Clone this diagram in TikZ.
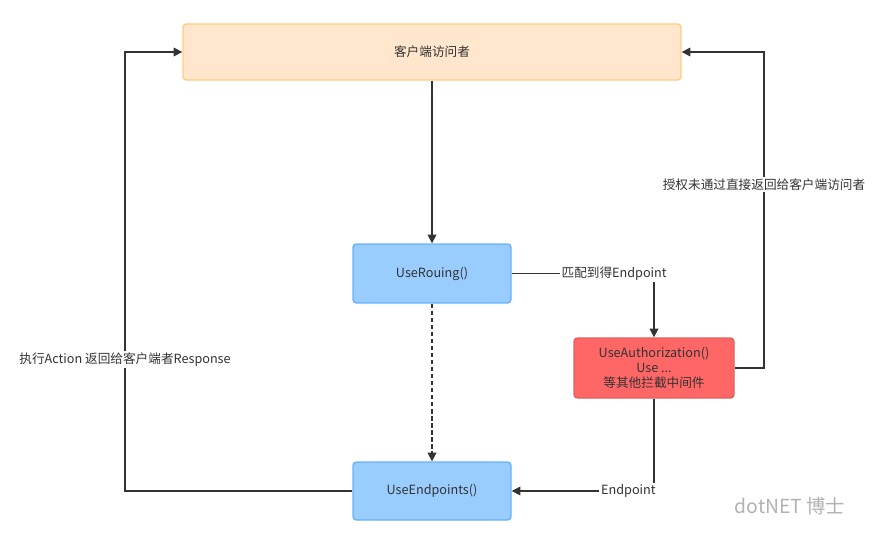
\documentclass[tikz,border=0pt]{standalone}
\usepackage{fontspec}
\setmainfont{Noto Sans CJK SC}
\usetikzlibrary{arrows.meta}
\definecolor{peach}{HTML}{FFE6CC}
\definecolor{peachb}{HTML}{FFCC80}
\definecolor{blue1}{HTML}{99CCFF}
\definecolor{blueb}{HTML}{66B2FF}
\definecolor{red1}{HTML}{FF6666}
\definecolor{redb}{HTML}{E06060}
\definecolor{ln}{HTML}{333333}
\begin{document}
\begin{tikzpicture}[x=0.02cm,y=-0.02cm,font=\fontsize{7.2}{8.5}\selectfont,
 box/.style={draw,line width=0.8pt,rounded corners=2pt,inner sep=0pt,align=center,text=ln},
 arr/.style={draw=ln,line width=0.9pt,-{Triangle[length=5pt,width=5pt]}},
 lab/.style={fill=white,inner sep=1pt,text=ln}]
\useasboundingbox (0,0) rectangle (882,545);
\node[box,fill=peach,draw=peachb,minimum width=498*0.02cm,minimum height=56*0.02cm] (client) at (432,52) {客户端访问者};
\node[box,fill=blue1,draw=blueb,minimum width=158*0.02cm,minimum height=59*0.02cm] (rout) at (432,273.5) {UseRouing()};
\node[box,fill=red1,draw=redb,minimum width=160*0.02cm,minimum height=60*0.02cm] (auth) at (654,368) {UseAuthorization()\\Use ...\\等其他拦截中间件};
\node[box,fill=blue1,draw=blueb,minimum width=158*0.02cm,minimum height=58*0.02cm] (endp) at (432,491) {UseEndpoints()};
\draw[arr] (client.south) -- (rout.north);
\draw[arr,dash pattern=on 2.5pt off 1.5pt] (rout.south) -- (endp.north);
\draw[arr] (rout.east) -| node[lab,pos=0.36]{匹配到得Endpoint} (auth.north);
\draw[arr] (auth.east) -- (764,368) -- node[lab,pos=0.58]{授权未通过直接返回给客户端访问者} (764,52) -- (client.east);
\draw[arr] (auth.south) |- node[lab,pos=0.59]{Endpoint} (endp.east);
\draw[arr] (endp.west) -- (125,491) -- node[lab,pos=0.3]{执行Action 返回给客户端者Response} (125,52) -- (client.west);
\node[text=gray!60,font=\fontsize{11}{12}\selectfont] (wm) at (790,506) {dotNET 博士};
\end{tikzpicture}
\end{document}
